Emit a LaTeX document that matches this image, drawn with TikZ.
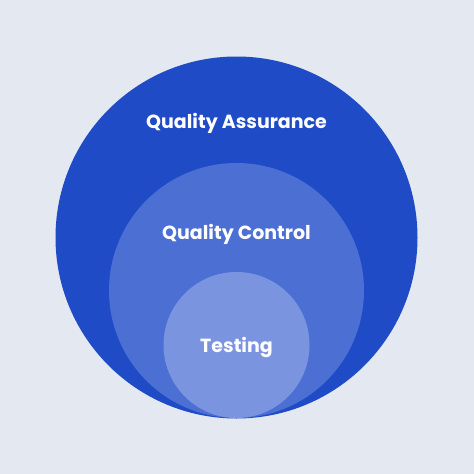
\documentclass[tikz,border=0pt]{standalone}
\usepackage{fontspec}
\setmainfont{Poppins}
\usepackage{xcolor}

\definecolor{bgcol}{RGB}{228,232,240}
\definecolor{qacol}{RGB}{31,75,198}
\definecolor{qccol}{RGB}{76,111,211}
\definecolor{tcol}{RGB}{122,148,224}

\begin{document}
\begin{tikzpicture}[x=1pt,y=-1pt, thick,
        ring/.style={circle, inner sep=0pt, draw=none},
        lbl/.style={text=white, font=\bfseries\fontsize{19}{22}\selectfont}]
                        \fill[bgcol] (0,0) rectangle (474,474);
                        \useasboundingbox (0,0) rectangle (474,474);

                        \node [ring, fill=qacol, minimum size=362](qa) at (236.5,237.5) {};
                        \node [ring, fill=qccol, minimum size=255](qc) at (236.5,290.5) {};
                        \node [ring, fill=tcol, minimum size=146](test) at (236.5,345) {};

                        \node [lbl](qatext) at (236.5,123.5) {Quality Assurance};
                        \node [lbl](qctext) at (236.5,234.5) {Quality Control};
                        \node [lbl](ttext) at (236.5,347.5) {Testing};

                    \end{tikzpicture}
\end{document}
